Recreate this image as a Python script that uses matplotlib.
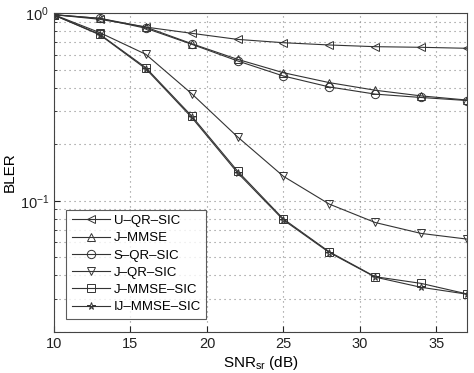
import matplotlib
matplotlib.use("Agg")
import matplotlib.pyplot as plt
from matplotlib.ticker import LogLocator, NullFormatter, FixedLocator

plt.rcParams['font.family'] = ['Liberation Sans', 'DejaVu Sans']
plt.rcParams['mathtext.fontset'] = 'custom'
plt.rcParams['mathtext.rm'] = 'Liberation Sans'
plt.rcParams['mathtext.it'] = 'Liberation Sans'

snr = [10, 13, 16, 19, 22, 25, 28, 31, 34, 37]
u_qr_sic = [0.98, 0.926, 0.842, 0.78, 0.724, 0.695, 0.676, 0.662, 0.657, 0.649]
j_mmse = [0.98, 0.937, 0.842, 0.687, 0.567, 0.481, 0.426, 0.388, 0.362, 0.344]
s_qr_sic = [0.98, 0.937, 0.83, 0.682, 0.556, 0.462, 0.404, 0.37, 0.355, 0.342]
j_qr_sic = [0.98, 0.786, 0.603, 0.372, 0.219, 0.135, 0.096, 0.0766, 0.067, 0.0625]
j_mmse_sic = [0.975, 0.77, 0.512, 0.283, 0.144, 0.080, 0.0535, 0.0394, 0.0363, 0.0319]
ij_mmse_sic = [0.975, 0.765, 0.505, 0.278, 0.141, 0.079, 0.053, 0.0392, 0.0346, 0.0318]

labels = ['U\u2013QR\u2013SIC', 'J\u2013MMSE', 'S\u2013QR\u2013SIC',
          'J\u2013QR\u2013SIC', 'J\u2013MMSE\u2013SIC', 'IJ\u2013MMSE\u2013SIC']
markers = ['<', '^', 'o', 'v', 's', '*']
series = [u_qr_sic, j_mmse, s_qr_sic, j_qr_sic, j_mmse_sic, ij_mmse_sic]

fig = plt.figure(figsize=(4.74, 3.73), dpi=100)
ax = fig.add_axes([0.114, 0.110, 0.871, 0.855])

col = '#333333'
for y, m, lab in zip(series, markers, labels):
    ax.plot(snr, y, color=col, lw=0.8, marker=m, markersize=6 if m != '*' else 5.5,
            markerfacecolor='none', markeredgecolor=col, markeredgewidth=0.7,
            label=lab)

ax.set_yscale('log')
ax.set_xlim(10, 37)
ax.set_ylim(0.02, 1)
ax.xaxis.set_major_locator(FixedLocator([10, 15, 20, 25, 30, 35]))
ax.yaxis.set_major_locator(LogLocator(base=10))
ax.yaxis.set_minor_locator(LogLocator(base=10, subs=range(2, 10)))
ax.yaxis.set_minor_formatter(NullFormatter())

ax.grid(True, which='major', linestyle=(0, (1, 3.5)), color='#888888', lw=0.8)
ax.grid(True, which='minor', axis='y', linestyle=(0, (1, 3.5)), color='#888888', lw=0.8)
ax.tick_params(which='both', direction='in', labelsize=10.5, colors='#222222')
ax.tick_params(which='major', length=4)
ax.tick_params(which='minor', length=2)
for s in ax.spines.values():
    s.set_color('#444444')
    s.set_linewidth(0.8)

ax.set_xlabel('SNR$_{\\rm sr}$ (dB)', fontsize=11, labelpad=2)
ax.set_ylabel('BLER', fontsize=11, labelpad=2)

leg = ax.legend(loc='lower left', bbox_to_anchor=(0.03, 0.042), fontsize=9.5,
                frameon=True, fancybox=False, edgecolor='#333333',
                handlelength=2.9, borderpad=0.4, labelspacing=0.38,
                handletextpad=0.3, borderaxespad=0.0)
leg.get_frame().set_linewidth(0.8)

fig.savefig('out.png', dpi=100)
